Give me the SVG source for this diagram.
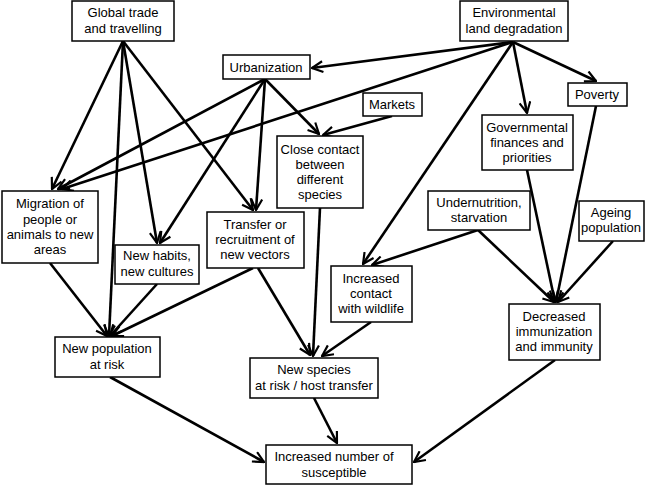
<svg xmlns="http://www.w3.org/2000/svg" width="653" height="486" viewBox="0 0 653 486">
<style>
rect{fill:#fff;stroke:#000;stroke-width:1.5}
text{font-family:"Liberation Sans",Arial,sans-serif;font-size:13px;text-anchor:middle;fill:#000}
#edges line{stroke:#000;stroke-width:2.6;marker-end:url(#a)}
</style>
<defs><marker id="a" viewBox="0 0 12 12" refX="11" refY="6" markerWidth="5" markerHeight="5" orient="auto" markerUnits="strokeWidth"><path d="M1,1 L11,6 L1,11" fill="none" stroke="#000" stroke-width="2"/></marker></defs>
<g id="edges">
<line x1="123" y1="41" x2="52" y2="189"/>
<line x1="123" y1="41" x2="109" y2="336"/>
<line x1="123" y1="41" x2="157" y2="243"/>
<line x1="123" y1="41" x2="253" y2="210"/>
<line x1="265" y1="79" x2="58" y2="189"/>
<line x1="265" y1="79" x2="160" y2="243"/>
<line x1="265" y1="79" x2="256" y2="210"/>
<line x1="265" y1="79" x2="319" y2="134"/>
<line x1="513" y1="42" x2="312" y2="68"/>
<line x1="513" y1="42" x2="62" y2="189"/>
<line x1="513" y1="42" x2="363" y2="264"/>
<line x1="513" y1="42" x2="527" y2="113"/>
<line x1="513" y1="42" x2="596" y2="81"/>
<line x1="392" y1="116" x2="323" y2="135"/>
<line x1="320" y1="208" x2="313" y2="356"/>
<line x1="258" y1="268" x2="310" y2="355"/>
<line x1="253" y1="268" x2="112" y2="336"/>
<line x1="157" y1="284" x2="110" y2="336"/>
<line x1="50" y1="263" x2="107" y2="336"/>
<line x1="478" y1="230" x2="372" y2="265"/>
<line x1="478" y1="230" x2="554" y2="302"/>
<line x1="527" y1="170" x2="555" y2="302"/>
<line x1="596" y1="106" x2="556" y2="302"/>
<line x1="613" y1="241" x2="558" y2="302"/>
<line x1="371" y1="322" x2="322" y2="356"/>
<line x1="110" y1="377" x2="264" y2="462"/>
<line x1="314" y1="398" x2="337" y2="443"/>
<line x1="555" y1="360" x2="414" y2="462"/>
</g>
<g id="global"><rect x="72" y="1" width="102" height="40"/><text x="123" y="17">Global trade</text><text x="123" y="33">and travelling</text></g>
<g id="urban"><rect x="223" y="55" width="87" height="24"/><text x="266" y="72">Urbanization</text></g>
<g id="env"><rect x="460" y="1" width="108" height="40"/><text x="514" y="17">Environmental</text><text x="514" y="33">land degradation</text></g>
<g id="markets"><rect x="363" y="93" width="59" height="23"/><text x="392" y="109">Markets</text></g>
<g id="poverty"><rect x="568" y="83" width="59" height="23"/><text x="597" y="99">Poverty</text></g>
<g id="close"><rect x="277" y="136" width="86" height="72"/><text x="320" y="154">Close contact</text><text x="320" y="169">between</text><text x="320" y="184">different</text><text x="320" y="199">species</text></g>
<g id="gov"><rect x="482" y="115" width="91" height="55"/><text x="527" y="132">Governmental</text><text x="527" y="147">finances and</text><text x="527" y="162">priorities</text></g>
<g id="migration"><rect x="2" y="191" width="96" height="72"/><text x="50" y="208">Migration of</text><text x="50" y="224">people or</text><text x="50" y="239">animals to new</text><text x="50" y="254">areas</text></g>
<g id="habits"><rect x="115" y="245" width="84" height="39"/><text x="157" y="260">New habits,</text><text x="157" y="276">new cultures</text></g>
<g id="transfer"><rect x="207" y="212" width="97" height="56"/><text x="255" y="229">Transfer or</text><text x="255" y="244">recruitment of</text><text x="255" y="259">new vectors</text></g>
<g id="under"><rect x="428" y="191" width="102" height="39"/><text x="479" y="207">Undernutrition,</text><text x="479" y="222">starvation</text></g>
<g id="ageing"><rect x="579" y="201" width="65" height="40"/><text x="611" y="217">Ageing</text><text x="611" y="232">population</text></g>
<g id="contact"><rect x="331" y="266" width="81" height="56"/><text x="371" y="283">Increased</text><text x="371" y="298">contact</text><text x="371" y="313">with wildlife</text></g>
<g id="decreased"><rect x="509" y="304" width="91" height="56"/><text x="554" y="321">Decreased</text><text x="554" y="336">immunization</text><text x="554" y="351">and immunity</text></g>
<g id="newpop"><rect x="55" y="337" width="105" height="40"/><text x="107" y="353">New population</text><text x="107" y="369">at risk</text></g>
<g id="newspecies"><rect x="250" y="358" width="128" height="40"/><text x="314" y="374">New species</text><text x="314" y="390">at risk / host transfer</text></g>
<g id="increased"><rect x="266" y="445" width="146" height="39"/><text x="334" y="461">Increased number of</text><text x="334" y="477">susceptible</text></g>
</svg>
